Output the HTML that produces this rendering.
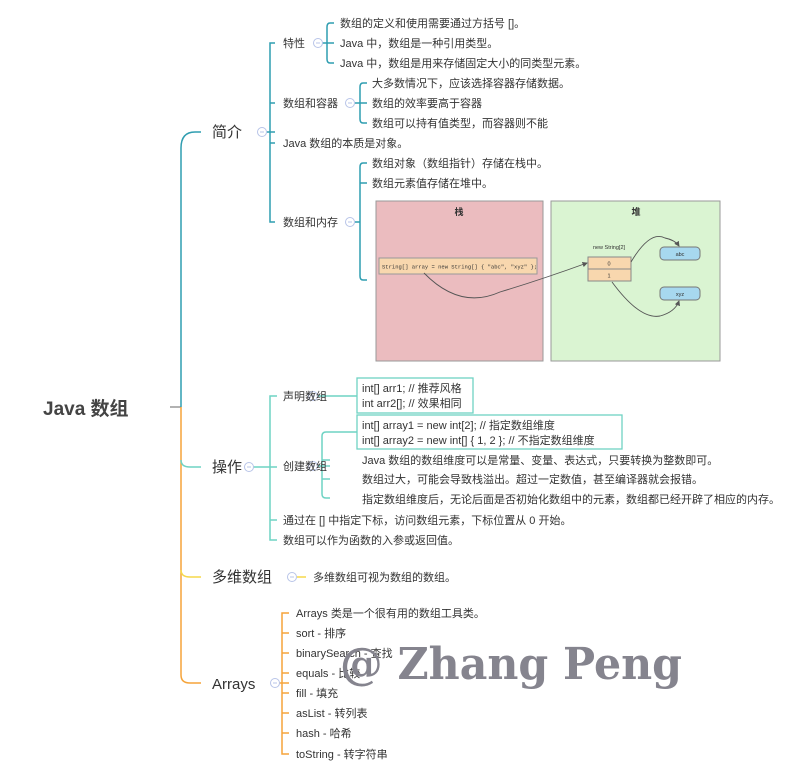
<!DOCTYPE html>
<html><head><meta charset="utf-8"><style>
html,body{margin:0;padding:0;background:#fff;width:800px;height:777px;overflow:hidden}
svg text{font-family:"Liberation Sans","Noto Sans CJK SC",sans-serif;fill:#333}
</style></head><body>
<svg width="800" height="777" viewBox="0 0 800 777" xmlns="http://www.w3.org/2000/svg">
<defs><marker id="ar" markerWidth="6" markerHeight="6" refX="5" refY="3" orient="auto"><path d="M0,0 L6,3 L0,6z" fill="#555"/></marker></defs>
<g fill="none" stroke-width="1.5">
<line x1="170" y1="407" x2="181" y2="407" stroke="#999"/>
<path d="M181,407 V148 Q181,132 195,132 H201" stroke="#2f9db0"/>
<path d="M181,407 V675 Q181,683 190,683 H201" stroke="#f5a43a"/>
<path d="M181,460 Q181,467 190,467 H201" stroke="#6fd3c4"/>
<path d="M181,570 Q181,577 190,577 H201" stroke="#f5d84a"/>
<g stroke="#2f9db0">
<path d="M275,43 H270 V222 H275"/><line x1="267" y1="132" x2="275" y2="132"/><line x1="270" y1="103" x2="275" y2="103"/><line x1="270" y1="143" x2="275" y2="143"/>
<path d="M334,23 H330 Q327,23 327,27 V59 Q327,63 330,63 H334"/><line x1="322" y1="43" x2="334" y2="43"/>
<path d="M367,83 H363 Q360,83 360,87 V119 Q360,123 363,123 H367"/><line x1="355" y1="103" x2="367" y2="103"/>
<path d="M367,163 H363 Q360,163 360,167 V276 Q360,280 363,280 H367"/><line x1="355" y1="222" x2="360" y2="222"/><line x1="360" y1="183" x2="367" y2="183"/>
</g>
<g stroke="#6fd3c4">
<path d="M277,396 H270 V540 H277"/><line x1="253" y1="467" x2="277" y2="467"/><line x1="270" y1="520" x2="277" y2="520"/>
<line x1="318" y1="396" x2="357" y2="396"/>
<path d="M357,432 H326 Q322,432 322,436 V494 Q322,498 326,498 H330"/><line x1="318" y1="466" x2="330" y2="466"/><line x1="322" y1="460" x2="330" y2="460"/><line x1="322" y1="479" x2="330" y2="479"/>
<rect x="357" y="378" width="116" height="35" stroke-width="1.3"/>
<rect x="357" y="415" width="265" height="34" stroke-width="1.3"/>
</g>
<line x1="297" y1="577" x2="306" y2="577" stroke="#f5d84a"/>
<g stroke="#f5a43a">
<path d="M289,613 H282 V754 H289"/><line x1="278" y1="683" x2="289" y2="683"/>
<line x1="282" y1="633" x2="289" y2="633"/><line x1="282" y1="653" x2="289" y2="653"/><line x1="282" y1="673" x2="289" y2="673"/><line x1="282" y1="693" x2="289" y2="693"/><line x1="282" y1="713" x2="289" y2="713"/><line x1="282" y1="733" x2="289" y2="733"/>
</g>
</g>
<g fill="#fff" stroke="#b8c4e8" stroke-width="1">
<circle cx="262" cy="132" r="4.5"/><circle cx="318" cy="43" r="4.5"/><circle cx="350" cy="103" r="4.5"/><circle cx="350" cy="222" r="4.5"/>
<circle cx="249" cy="467" r="4.5"/><circle cx="313" cy="396" r="4.5"/><circle cx="313" cy="466" r="4.5"/><circle cx="292" cy="577" r="4.5"/><circle cx="275" cy="683" r="4.5"/>
</g>
<g stroke="#b8c4e8" stroke-width="1"><line x1="260" y1="132" x2="264" y2="132"/><line x1="316" y1="43" x2="320" y2="43"/><line x1="348" y1="103" x2="352" y2="103"/><line x1="348" y1="222" x2="352" y2="222"/><line x1="247" y1="467" x2="251" y2="467"/><line x1="311" y1="396" x2="315" y2="396"/><line x1="311" y1="466" x2="315" y2="466"/><line x1="290" y1="577" x2="294" y2="577"/><line x1="273" y1="683" x2="277" y2="683"/></g>
<rect x="376" y="201" width="167" height="160" fill="#ebbcbf" stroke="#999"/>
<rect x="551" y="201" width="169" height="160" fill="#daf4d2" stroke="#999"/>
<text x="459" y="215" font-size="9" font-weight="bold" text-anchor="middle">栈</text>
<text x="636" y="215" font-size="9" font-weight="bold" text-anchor="middle">堆</text>
<rect x="379" y="258" width="158" height="16" fill="#f8d7ae" stroke="#999"/>
<text x="382" y="268.5" font-size="5.5" style="font-family:'Liberation Mono',monospace">String[] array = new String[] { "abc", "xyz" };</text>
<text x="609" y="249" font-size="5.5" text-anchor="middle">new String[2]</text>
<rect x="588" y="257" width="43" height="12" fill="#f8d7ae" stroke="#888"/>
<rect x="588" y="269" width="43" height="12" fill="#f8d7ae" stroke="#888"/>
<text x="609" y="265.5" font-size="5.5" text-anchor="middle">0</text><text x="609" y="277.5" font-size="5.5" text-anchor="middle">1</text>
<rect x="660" y="247" width="40" height="13" rx="4" fill="#a7d8ef" stroke="#777"/>
<rect x="660" y="287" width="40" height="13" rx="4" fill="#a7d8ef" stroke="#777"/>
<text x="680" y="256" font-size="5.5" text-anchor="middle">abc</text><text x="680" y="296" font-size="5.5" text-anchor="middle">xyz</text>
<g fill="none" stroke="#555" stroke-width="0.9">
<path d="M424,273 Q460,310 500,292 Q540,280 587,263" marker-end="url(#ar)"/>
<path d="M631,262 Q650,230 665,238 Q675,240 679,246" marker-end="url(#ar)"/>
<path d="M612,282 Q640,320 660,316 Q675,312 679,301" marker-end="url(#ar)"/>
</g>
<text x="43" y="415" font-size="19" font-weight="bold" style="fill:#444">Java 数组</text>
<g font-size="15" style="fill:#555"><text x="212" y="137">简介</text><text x="212" y="472">操作</text><text x="212" y="582">多维数组</text><text x="212" y="689">Arrays</text></g>
<g font-size="11">
<text x="283" y="47">特性</text><text x="283" y="107">数组和容器</text><text x="283" y="147">Java 数组的本质是对象。</text><text x="283" y="226">数组和内存</text>
<text x="340" y="27">数组的定义和使用需要通过方括号 []。</text><text x="340" y="47">Java 中，数组是一种引用类型。</text><text x="340" y="67">Java 中，数组是用来存储固定大小的同类型元素。</text>
<text x="372" y="87">大多数情况下，应该选择容器存储数据。</text><text x="372" y="107">数组的效率要高于容器</text><text x="372" y="127">数组可以持有值类型，而容器则不能</text>
<text x="372" y="167">数组对象（数组指针）存储在栈中。</text><text x="372" y="187">数组元素值存储在堆中。</text>
<text x="283" y="400">声明数组</text><text x="283" y="470">创建数组</text>
<text x="362" y="392">int[] arr1; // 推荐风格</text><text x="362" y="407">int arr2[]; // 效果相同</text>
<text x="362" y="429">int[] array1 = new int[2]; // 指定数组维度</text><text x="362" y="444">int[] array2 = new int[] { 1, 2 }; // 不指定数组维度</text>
<text x="362" y="464">Java 数组的数组维度可以是常量、变量、表达式，只要转换为整数即可。</text>
<text x="362" y="483">数组过大，可能会导致栈溢出。超过一定数值，甚至编译器就会报错。</text>
<text x="362" y="503">指定数组维度后，无论后面是否初始化数组中的元素，数组都已经开辟了相应的内存。</text>
<text x="283" y="524">通过在 [] 中指定下标，访问数组元素，下标位置从 0 开始。</text>
<text x="283" y="544">数组可以作为函数的入参或返回值。</text>
<text x="313" y="581">多维数组可视为数组的数组。</text>
<text x="296" y="617">Arrays 类是一个很有用的数组工具类。</text><text x="296" y="637">sort - 排序</text><text x="296" y="657">binarySearch - 查找</text><text x="296" y="677">equals - 比较</text><text x="296" y="697">fill - 填充</text><text x="296" y="717">asList - 转列表</text><text x="296" y="737">hash - 哈希</text><text x="296" y="758">toString - 转字符串</text>
</g>
<text x="340" y="679" font-size="44" font-weight="bold" textLength="342" lengthAdjust="spacingAndGlyphs" style="font-family:'DejaVu Serif','Liberation Serif',serif;fill:#85848e">@ Zhang Peng</text>
</svg>
</body></html>
